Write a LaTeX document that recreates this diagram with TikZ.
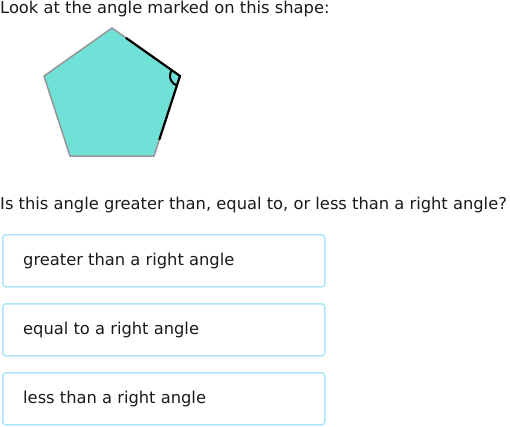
\documentclass[tikz,border=0pt]{standalone}
\usepackage{fontspec}
\setmainfont{DejaVu Sans}
\usetikzlibrary{positioning,calc}
\definecolor{shapefill}{HTML}{70E1D7}
\definecolor{shapeedge}{HTML}{959595}
\definecolor{boxedge}{HTML}{AEE6F8}
\definecolor{txt}{HTML}{1A1A1A}

\tikzset{
    every node/.style={font=\fontsize{16.3}{18}\selectfont, text=txt, inner sep=0pt},
    answer/.style={draw=boxedge, line width=1.5pt, rounded corners=3pt,
        minimum width=322pt, minimum height=52pt, anchor=north west},
    marked/.style={line width=2.2pt, line cap=round},
}

\begin{document}
\begin{tikzpicture}[x=1pt, y=-1pt]
    \useasboundingbox (0,0) rectangle (510,426);
    \node[anchor=west] (prompt) at (0,9) {Look at the angle marked on this shape:};
    % the pentagon
    \coordinate (top) at (112,28);
    \coordinate (rgt) at (180,76);
    \coordinate (brt) at (154,156);
    \coordinate (blf) at (70,156);
    \coordinate (lft) at (44,76);
    \filldraw[fill=shapefill, draw=shapeedge, line width=1.5pt]
        (top) -- (rgt) -- (brt) -- (blf) -- (lft) -- cycle;
    % marked angle
    \draw[marked] ($(rgt)!0.79!(top)$) -- (rgt) -- ($(rgt)!0.79!(brt)$);
    \draw[line width=2pt] (rgt) ++(-144.8:10) arc[start angle=-144.8, end angle=-252, radius=10];
    \node[anchor=west] (question) at (0,205)
        {Is this angle greater than, equal to, or less than a right angle?};
    % answers
    \node[answer] (greater) at (2,234) {};
    \node[answer] (equal) at (2,303) {};
    \node[answer] (less) at (2,372) {};
    \node[anchor=west] at ([xshift=21pt]greater.west) {greater than a right angle};
    \node[anchor=west] at ([xshift=21pt]equal.west) {equal to a right angle};
    \node[anchor=west] at ([xshift=21pt]less.west) {less than a right angle};
\end{tikzpicture}
\end{document}
